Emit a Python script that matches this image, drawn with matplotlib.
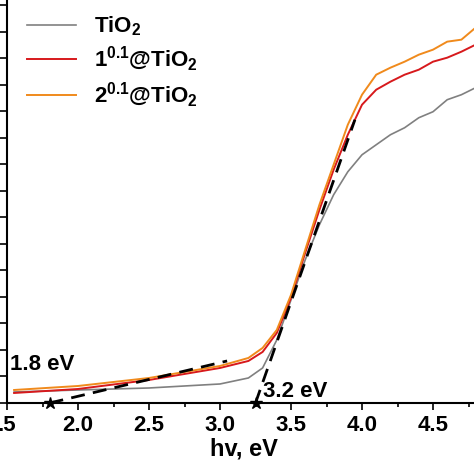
import matplotlib
matplotlib.use("Agg")
import matplotlib.pyplot as plt
from matplotlib.ticker import MultipleLocator, NullFormatter

plt.rcParams["font.family"] = ["Liberation Sans", "DejaVu Sans"]
plt.rcParams["font.weight"] = "bold"
plt.rcParams["mathtext.fontset"] = "custom"
plt.rcParams["mathtext.rm"] = "Liberation Sans:bold"
plt.rcParams["mathtext.bf"] = "Liberation Sans:bold"
plt.rcParams["mathtext.default"] = "rm"

# photon energy, eV
hv = [1.55, 2.0, 2.5, 3.0, 3.2, 3.3, 3.4, 3.5, 3.6, 3.7, 3.8, 3.9, 4.0,
      4.1, 4.2, 4.3, 4.4, 4.5, 4.6, 4.7, 4.8]
# Kubelka-Munk function (arb. units)
tio2 = [0.11, 0.13, 0.15, 0.19, 0.25, 0.35, 0.63, 1.03, 1.43, 1.78, 2.08,
        2.31, 2.48, 2.58, 2.68, 2.75, 2.85, 2.91, 3.03, 3.08, 3.15]
c1 = [0.10, 0.14, 0.23, 0.35, 0.42, 0.51, 0.70, 1.05, 1.50, 1.93, 2.33,
      2.68, 2.98, 3.13, 3.21, 3.28, 3.33, 3.41, 3.45, 3.51, 3.58]
c2 = [0.13, 0.17, 0.25, 0.37, 0.45, 0.55, 0.73, 1.08, 1.53, 1.98, 2.38,
      2.78, 3.08, 3.28, 3.35, 3.41, 3.48, 3.53, 3.61, 3.63, 3.75]

# tangent lines
fit1_x = [1.8, 3.05]
fit1_y = [0.0, 0.42]
fit2_x = [3.25, 3.95]
fit2_y = [0.0, 2.83]

fig = plt.figure(figsize=(4.74, 4.74), dpi=100)
ax = fig.add_axes([7 / 474, 71 / 474, 1.0, 0.87])

ax.plot(hv, tio2, color="#808080", lw=1.2, label="TiO$_2$")
ax.plot(hv, c1, color="#d7191c", lw=1.4, label="1$^{0.1}$@TiO$_2$")
ax.plot(hv, c2, color="#f08a1c", lw=1.4, label="2$^{0.1}$@TiO$_2$")
ax.plot(fit1_x, fit1_y, color="black", lw=2, ls=(0, (5, 3)))
ax.plot(fit2_x, fit2_y, color="black", lw=2, ls=(0, (5, 3)))
ax.plot([1.8, 3.25], [0, 0], "k*", ms=9, clip_on=False)

ax.text(1.52, 0.33, "1.8 eV", fontsize=16, fontweight="bold")
ax.text(3.3, 0.06, "3.2 eV", fontsize=16, fontweight="bold")

ax.set_xlim(1.5, 1.5 + 474 / 142)
ax.set_ylim(0, 4.12)
ax.xaxis.set_major_locator(MultipleLocator(0.5))
ax.xaxis.set_minor_locator(MultipleLocator(0.25))
ax.yaxis.set_major_locator(MultipleLocator(0.265))
ax.yaxis.set_major_formatter(NullFormatter())
ax.set_xticks([1.5, 2.0, 2.5, 3.0, 3.5, 4.0, 4.5])
ax.set_xticklabels([".5", "2.0", "2.5", "3.0", "3.5", "4.0", "4.5"])
ax.tick_params(axis="x", which="major", labelsize=16, length=5, width=1.2)
ax.tick_params(axis="x", which="minor", length=3, width=1.2)
ax.tick_params(axis="y", length=5, width=1.2)
for s in ax.spines.values():
    s.set_linewidth(1.5)
ax.set_xlabel("hv, eV", fontsize=17, fontweight="bold", labelpad=1)

ax.legend(loc="upper left", bbox_to_anchor=(0.0, 0.99), frameon=False,
          fontsize=16, handlelength=2.2, labelspacing=0.3)

fig.savefig("out.png", dpi=100)
